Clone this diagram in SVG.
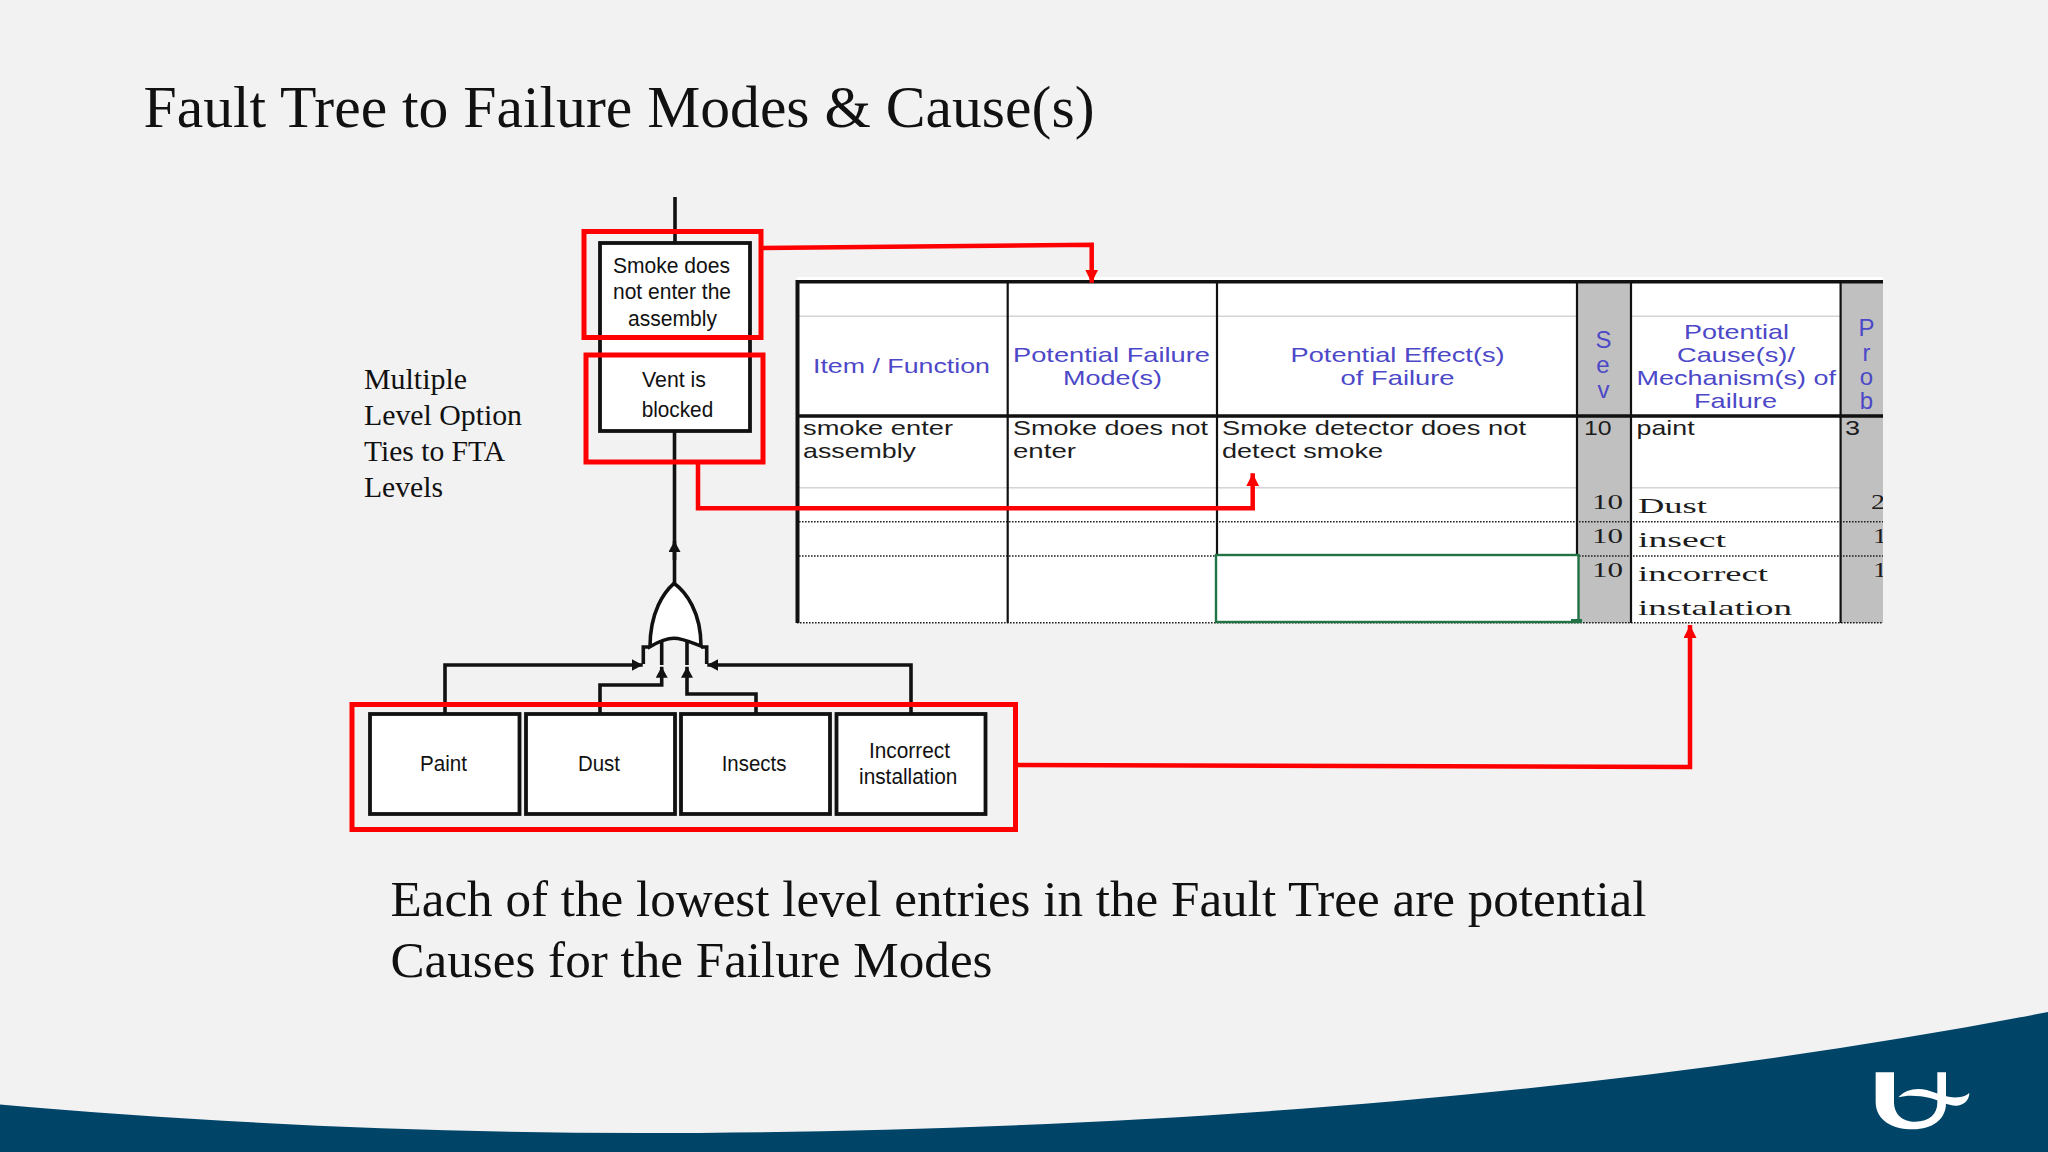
<svg xmlns="http://www.w3.org/2000/svg" width="2048" height="1152" viewBox="0 0 2048 1152">
<style>
.sans{font-family:"Liberation Sans",Arial,sans-serif}
.ser{font-family:"Liberation Serif","Times New Roman",serif}
.big{font-size:50px;fill:#111}
.side{font-size:30px;fill:#111}
.nt{font-size:22.5px;fill:#111}
.hd{font-size:21px;fill:#4c48c8}
.cell{font-size:21px;fill:#1c1c1c}
.sc{font-size:21px;fill:#1c1c1c}
.nb{fill:#fff;stroke:#111;stroke-width:3.8}
.blk{fill:none;stroke:#111;stroke-width:3.6}
.red{fill:none;stroke:#f00;stroke-width:4.5}
.redb{fill:none;stroke:#f00;stroke-width:5}
.grid{stroke:#111;stroke-width:2.2;fill:none}
.heavy{stroke:#111;stroke-width:3.4;fill:none}
.soft{stroke:#d3d3d8;stroke-width:1.5;fill:none}
.dot{stroke:#222;stroke-width:1.6;stroke-dasharray:1.6 1.4;fill:none}
</style>
<defs>
<marker id="ab" markerUnits="userSpaceOnUse" markerWidth="13" markerHeight="13" refX="11" refY="6" orient="auto"><path d="M0,0L11,6L0,12Z" fill="#111"/></marker>
<marker id="ar" markerUnits="userSpaceOnUse" markerWidth="14" markerHeight="14" refX="13" refY="6.500" orient="auto"><path d="M0,0L13,6.500L0,13Z" fill="#f00"/></marker>
<clipPath id="tc"><rect x="790" y="270" width="1093" height="360"/></clipPath>
</defs>
<rect id="background" width="2048" height="1152" fill="#f2f2f2"/>
<path id="band" d="M0,1104.500C200,1122 420,1133 640,1133C1000,1133 1530,1112 2048,1012V1152H0Z" fill="#004468"/>
<g id="logo" transform="translate(1700 980) scale(.33333)" fill="#fff">
<path d="M527,277H582V365C582,405 610,425 645,425C690,425 712,400 712,368V277H738V370C738,420 695,448 640,448C575,448 527,420 527,365Z"/>
<path d="M595,352C615,328 650,322 680,330C715,340 745,355 775,352C790,350 803,345 808,338C808,358 795,375 770,377C745,378 720,362 690,354C655,346 620,345 595,352Z"/>
</g>
<text id="title" class="ser" x="143.500" y="127" font-size="58.500" fill="#111" textLength="951" lengthAdjust="spacingAndGlyphs">Fault Tree to Failure Modes &amp; Cause(s)</text>
<g id="note">
<text class="ser side" x="364" y="389" textLength="103" lengthAdjust="spacingAndGlyphs">Multiple</text>
<text class="ser side" x="364" y="425" textLength="158" lengthAdjust="spacingAndGlyphs">Level Option</text>
<text class="ser side" x="364" y="461" textLength="141" lengthAdjust="spacingAndGlyphs">Ties to FTA</text>
<text class="ser side" x="364" y="497" textLength="79" lengthAdjust="spacingAndGlyphs">Levels</text>
</g>
<g id="fmea-table">
<rect x="797" y="277" width="1086" height="346" fill="#fff"/>
<rect x="1577" y="282" width="54" height="341" fill="#c0c0c0"/>
<rect x="1841" y="282" width="42" height="341" fill="#c0c0c0"/>
<path class="soft" d="M799,316.300H1577M1631,316.300H1841M799,487.700H1577M1631,487.700H1841"/>
<path class="dot" d="M799,521.700H1883M799,556H1883M797,622.700H1883"/>
<path class="grid" d="M1007.700,282V623M1217,282V556M1577,282V623M1631,282V623M1840.600,282V623"/>
<path class="heavy" d="M796,281.700H1883M797,416H1883"/>
<path fill="none" stroke="#111" stroke-width="4" d="M797.500,280V623"/>
<rect x="1216" y="555" width="362.500" height="67" fill="#fff" stroke="#217346" stroke-width="2.400"/>
<rect x="1571" y="619" width="11" height="4" fill="#217346"/>
<g clip-path="url(#tc)">
<text class="sans hd" x="813" y="372.700" textLength="177" lengthAdjust="spacingAndGlyphs">Item / Function</text>
<text class="sans hd" x="1013" y="361.700" textLength="197" lengthAdjust="spacingAndGlyphs">Potential Failure</text>
<text class="sans hd" x="1063" y="385" textLength="99" lengthAdjust="spacingAndGlyphs">Mode(s)</text>
<text class="sans hd" x="1290.600" y="361.700" textLength="214" lengthAdjust="spacingAndGlyphs">Potential Effect(s)</text>
<text class="sans hd" x="1340.600" y="384.700" textLength="114" lengthAdjust="spacingAndGlyphs">of Failure</text>
<g class="sans hd" text-anchor="middle" style="font-size:24px">
<text x="1603.500" y="348">S</text><text x="1603" y="373">e</text><text x="1603.500" y="397.700">v</text>
<text x="1866.500" y="336">P</text><text x="1866.500" y="360.700">r</text><text x="1866.500" y="385">o</text><text x="1866.500" y="409">b</text>
</g>
<text class="sans hd" x="1684" y="338.700" textLength="105" lengthAdjust="spacingAndGlyphs">Potential</text>
<text class="sans hd" x="1677" y="361.700" textLength="118" lengthAdjust="spacingAndGlyphs">Cause(s)/</text>
<text class="sans hd" x="1636.600" y="384.700" textLength="199.500" lengthAdjust="spacingAndGlyphs">Mechanism(s) of</text>
<text class="sans hd" x="1694" y="407.700" textLength="83" lengthAdjust="spacingAndGlyphs">Failure</text>
<text class="sans cell" x="803" y="435" textLength="150" lengthAdjust="spacingAndGlyphs">smoke enter</text>
<text class="sans cell" x="803" y="458" textLength="113" lengthAdjust="spacingAndGlyphs">assembly</text>
<text class="sans cell" x="1013" y="435" textLength="195" lengthAdjust="spacingAndGlyphs">Smoke does not</text>
<text class="sans cell" x="1013" y="458" textLength="63" lengthAdjust="spacingAndGlyphs">enter</text>
<text class="sans cell" x="1222" y="435" textLength="304" lengthAdjust="spacingAndGlyphs">Smoke detector does not</text>
<text class="sans cell" x="1222" y="458" textLength="161" lengthAdjust="spacingAndGlyphs">detect smoke</text>
<text class="sans cell" x="1584" y="435" textLength="27.600" lengthAdjust="spacingAndGlyphs">10</text>
<text class="sans cell" x="1636.600" y="435" textLength="58" lengthAdjust="spacingAndGlyphs">paint</text>
<text class="sans cell" x="1845" y="435" textLength="15" lengthAdjust="spacingAndGlyphs">3</text>
<text class="ser sc" x="1592" y="509" textLength="31" lengthAdjust="spacingAndGlyphs">10</text>
<text class="ser sc" x="1592" y="543" textLength="31" lengthAdjust="spacingAndGlyphs">10</text>
<text class="ser sc" x="1592" y="577" textLength="31" lengthAdjust="spacingAndGlyphs">10</text>
<text class="ser sc" x="1638" y="512.700" textLength="69" lengthAdjust="spacingAndGlyphs">Dust</text>
<text class="ser sc" x="1638" y="546.700" textLength="88" lengthAdjust="spacingAndGlyphs">insect</text>
<text class="ser sc" x="1638" y="580.700" textLength="130" lengthAdjust="spacingAndGlyphs">incorrect</text>
<text class="ser sc" x="1638" y="615" textLength="154" lengthAdjust="spacingAndGlyphs">instalation</text>
<text class="ser sc" x="1871" y="509" textLength="14" lengthAdjust="spacingAndGlyphs">2</text>
<text class="ser sc" x="1873" y="543" textLength="14" lengthAdjust="spacingAndGlyphs">1</text>
<text class="ser sc" x="1873" y="577" textLength="14" lengthAdjust="spacingAndGlyphs">1</text>
</g>
</g>
<g id="connectors">
<path class="blk" d="M675,197V243"/>
<path class="blk" d="M674.500,431V583"/>
<path class="blk" d="M674.500,560V541" marker-end="url(#ab)"/>
<path class="blk" d="M445,714V665H642.700" marker-end="url(#ab)"/>
<path class="blk" d="M600,714V685H661.700V666.700" marker-end="url(#ab)"/>
<path class="blk" d="M756,714V694H687V666.700" marker-end="url(#ab)"/>
<path class="blk" d="M911,714V665H707.300" marker-end="url(#ab)"/>
</g>
<g id="or-gate">
<path d="M650,646.700C650,612 664,592 674,583.300C686,592 701,612 701,646C690,642 682,638.300 674,638.300C666,638.300 658,642 650,646.700Z" fill="#fff" stroke="#111" stroke-width="3.600"/>
<path class="blk" d="M643.300,664V647H650M706.700,664V647H701M661.700,642V665M687,641V665"/>
</g>
<g id="node-top-event"><rect class="nb" x="600" y="243" width="150" height="188"/>
<text class="sans nt" x="613" y="272.700" textLength="117" lengthAdjust="spacingAndGlyphs">Smoke does</text>
<text class="sans nt" x="613" y="299.300" textLength="118" lengthAdjust="spacingAndGlyphs">not enter the</text>
<text class="sans nt" x="628" y="325.700" textLength="89" lengthAdjust="spacingAndGlyphs">assembly</text>
<text class="sans nt" x="642" y="386.700" textLength="64" lengthAdjust="spacingAndGlyphs">Vent is</text>
<text class="sans nt" x="641.700" y="416.700" textLength="71.500" lengthAdjust="spacingAndGlyphs">blocked</text>
</g>
<g id="node-paint"><rect class="nb" x="370" y="714" width="149.500" height="100"/><text class="sans nt" x="420" y="770.700" textLength="47" lengthAdjust="spacingAndGlyphs">Paint</text></g>
<g id="node-dust"><rect class="nb" x="526" y="714" width="149" height="100"/><text class="sans nt" x="578" y="770.700" textLength="42" lengthAdjust="spacingAndGlyphs">Dust</text></g>
<g id="node-insects"><rect class="nb" x="681" y="714" width="149" height="100"/><text class="sans nt" x="721.700" y="770.700" textLength="64.700" lengthAdjust="spacingAndGlyphs">Insects</text></g>
<g id="node-incorrect"><rect class="nb" x="836.500" y="714" width="149" height="100"/>
<text class="sans nt" x="869" y="757.700" textLength="81" lengthAdjust="spacingAndGlyphs">Incorrect</text>
<text class="sans nt" x="859" y="784" textLength="98.400" lengthAdjust="spacingAndGlyphs">installation</text></g>
<g id="red-links">
<rect class="redb" x="584" y="231.500" width="177" height="106"/>
<rect class="redb" x="586" y="355" width="177" height="107"/>
<rect class="redb" x="352" y="704.500" width="663.500" height="125"/>
<path class="red" d="M761,248L1091.700,244.700V282.700" marker-end="url(#ar)"/>
<path class="red" d="M698,462V508.300H1252.700V473.300" marker-end="url(#ar)"/>
<path class="red" d="M1015.500,765L1690,767V625" marker-end="url(#ar)"/>
</g>
<g id="caption">
<text class="ser big" x="390.500" y="916" textLength="1256" lengthAdjust="spacingAndGlyphs">Each of the lowest level entries in the Fault Tree are potential</text>
<text class="ser big" x="390.500" y="977" textLength="602" lengthAdjust="spacingAndGlyphs">Causes for the Failure Modes</text>
</g>
</svg>
